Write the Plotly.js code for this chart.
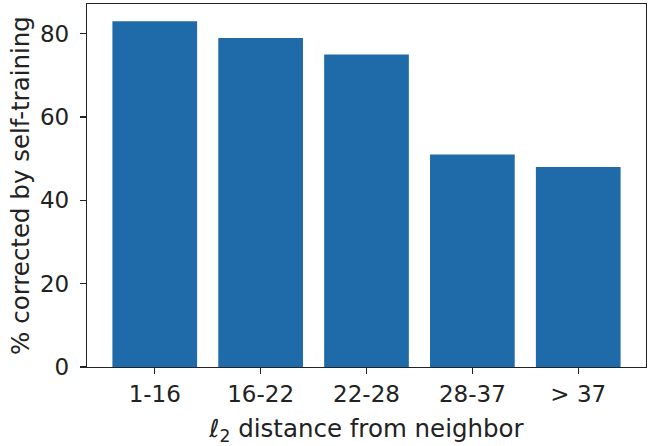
<!DOCTYPE html>
<html>
<head>
<meta charset="utf-8">
<script src="https://cdn.plot.ly/plotly-3.0.1.min.js"></script>
<style>html,body{margin:0;padding:0;background:#fff;}#chart{width:654px;height:446px;}</style>
</head>
<body>
<div id="chart"></div>
<script>
const categories = ["1-16", "16-22", "22-28", "28-37", "> 37"];
const corrected = [83, 79, 75, 51, 48];
const yTicks = [0, 20, 40, 60, 80];

const trace = {
  type: "bar",
  x: categories.map((c, i) => i),
  y: corrected,
  width: 0.8,
  marker: {color: "#1f6aa8", line: {width: 0}},
  hoverinfo: "none"
};

const layout = {
  width: 654,
  height: 446,
  margin: {l: 87, r: 8, t: 4, b: 78.5},
  paper_bgcolor: "#fff",
  plot_bgcolor: "#fff",
  font: {family: "DejaVu Sans", color: "#222", size: 23},
  showlegend: false,
  xaxis: {
    range: [-0.64, 4.64],
    tickvals: categories.map((c, i) => i),
    ticktext: categories,
    ticks: "outside",
    ticklen: 6,
    tickwidth: 1.2,
    tickcolor: "#222",
    showgrid: false,
    zeroline: false,
    showline: true,
    mirror: true,
    linecolor: "#222",
    linewidth: 1.2,
    tickfont: {size: 23},
    title: {text: "ℓ<sub>2</sub> distance from neighbor", font: {size: 24.5}, standoff: 14}
  },
  yaxis: {
    range: [0, 87.15],
    tickvals: yTicks,
    ticks: "outside",
    ticklen: 6,
    tickwidth: 1.2,
    tickcolor: "#222",
    ticklabelstandoff: 6,
    showgrid: false,
    zeroline: false,
    showline: true,
    mirror: true,
    linecolor: "#222",
    linewidth: 1.2,
    tickfont: {size: 23},
    title: {text: "% corrected by self-training", font: {size: 24.5}, standoff: 3}
  }
};

Plotly.newPlot("chart", [trace], layout, {staticPlot: true, displayModeBar: false});
</script>
</body>
</html>
